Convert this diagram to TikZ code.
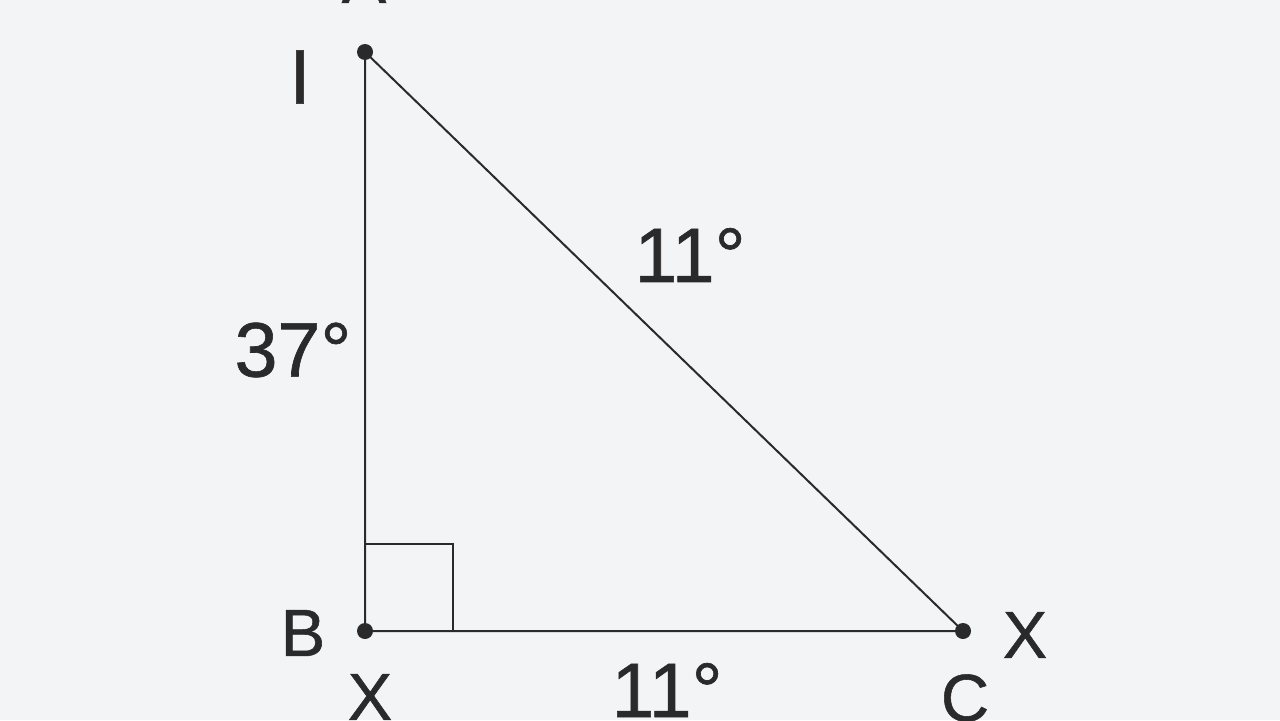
\documentclass[tikz,border=0pt]{standalone}
\usepackage{fontspec}
\setmainfont{Liberation Sans}[FakeBold=0.8]
\usetikzlibrary{positioning}
\definecolor{bgcol}{HTML}{F3F4F6}
\definecolor{inkcol}{HTML}{2A2A2A}

\begin{document}
\begin{tikzpicture}[x=0.02cm, y=-0.02cm, line width=0.04cm,
    dot/.style={circle, fill=inkcol, inner sep=0pt, minimum size=0.32cm},
    lbl/.style={text=inkcol, font=\fontsize{38}{38}\selectfont, inner sep=0pt},
    ang/.style={text=inkcol, font=\fontsize{44}{44}\selectfont, inner sep=0pt}]
    \fill[bgcol] (0,0) rectangle (1280,720);
    \useasboundingbox (0,0) rectangle (1280,720);
    % vertices
    \node (I) [dot] at (365,52) {};
    \node (B) [dot] at (365,631) {};
    \node (C) [dot] at (963,631) {};
    % sides
    \draw[inkcol] (I.center) -- (B.center) -- (C.center) -- cycle;
    \draw[inkcol] (365,544) -- (453,544) -- (453,631);
    % labels
    \node (lA) [lbl] at (364,-20) {A};
    \node (lI) [ang] at (300,77) {I};
    \node (lB) [lbl] at (303,633) {B};
    \node (lX1) [lbl] at (370,697) {X};
    \node (lX2) [lbl] at (1025,635) {X};
    \node (lC) [lbl] at (965,698) {C};
    \node (a37) [ang] at (293,350) {37°};
    \node (a11h) [ang] at (690,255) {11°};
    \node (a11b) [ang] at (667,690) {11°};
\end{tikzpicture}
\end{document}
